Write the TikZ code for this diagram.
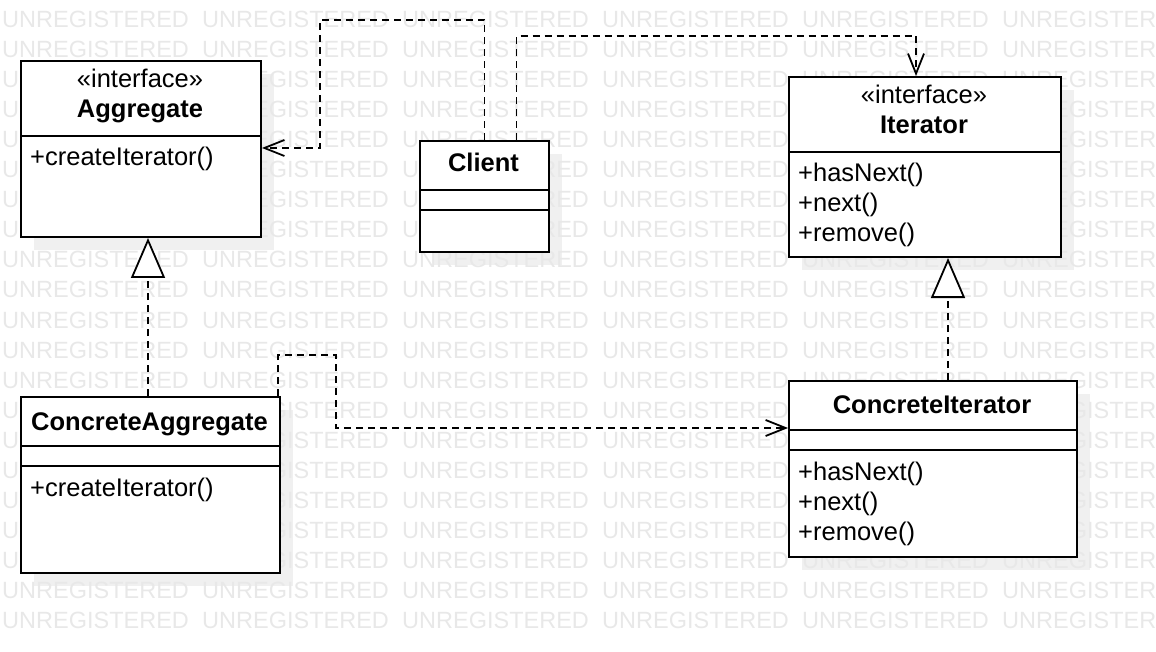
\documentclass[tikz,border=0pt]{standalone}
\usepackage{fontspec}
\setmainfont{Liberation Sans}
\usetikzlibrary{arrows.meta}

\begin{document}
\begin{tikzpicture}[x=1pt,y=-1pt]
      \tikzstyle{box} = [rectangle, draw, line width=2pt, fill=white, anchor=north west, inner sep=0pt]
      \tikzstyle{shade} = [fill=black!6]
      \tikzstyle{wmark} = [anchor=base west, inner sep=0pt, text=black!9, font=\fontsize{23.5}{28}\selectfont]
      \tikzstyle{classname} = [anchor=base, inner sep=0pt, font=\fontsize{25.5}{30}\selectfont\bfseries]
      \tikzstyle{stereo} = [anchor=base, inner sep=0pt, font=\fontsize{25.5}{30}\selectfont]
      \tikzstyle{opline} = [anchor=base west, inner sep=0pt, font=\fontsize{25.5}{30}\selectfont]
      \tikzstyle{divider} = [line width=2pt]
      \tikzstyle{dep} = [line width=1.8pt, dash pattern=on 7pt off 5pt, -{Straight Barb[length=20pt,width=16pt,line width=1.8pt]}]
      \tikzstyle{real} = [line width=1.8pt, dash pattern=on 7pt off 5pt, -{Triangle[length=40pt,width=34pt,fill=white,line width=1.8pt]}]
      \useasboundingbox (0,0) rectangle (1156,652);
      % shadows
      \fill[shade] (34,74) rectangle (274,250);
      \fill[shade] (433,154) rectangle (562,265);
      \fill[shade] (802,90) rectangle (1074,270);
      \fill[shade] (34,410) rectangle (293,586);
      \fill[shade] (802,394) rectangle (1090,570);
      % watermark
      \foreach \row in {-1,...,20}
        \foreach \col in {0,...,5}
          \node (w-\row-\col) [wmark] at (2+200*\col, 28+30*\row) {UNREGISTERED};
      % classes
      \node (agg) [box, minimum width=240pt, minimum height=176pt] at (20,60) {};
      \node (client) [box, minimum width=129pt, minimum height=111pt] at (419,140) {};
      \node (iter) [box, minimum width=272pt, minimum height=180pt] at (788,76) {};
      \node (cagg) [box, minimum width=259pt, minimum height=176pt] at (20,396) {};
      \node (citer) [box, minimum width=288pt, minimum height=176pt] at (788,380) {};
      % Aggregate
      \node (agg-st) [stereo] at (140,88) {«interface»};
      \node (agg-name) [classname] at (140,118) {Aggregate};
      \draw [divider] (agg.west |- 0,136) -- (agg.east |- 0,136);
      \node (agg-op) [opline] at (30,166) {+createIterator()};
      % Client
      \node (client-name) [classname] at (483.5,172) {Client};
      \draw [divider] (client.west |- 0,190) -- (client.east |- 0,190);
      \draw [divider] (client.west |- 0,210) -- (client.east |- 0,210);
      % Iterator
      \node (iter-st) [stereo] at (924,104) {«interface»};
      \node (iter-name) [classname] at (924,134) {Iterator};
      \draw [divider] (iter.west |- 0,152) -- (iter.east |- 0,152);
      \node (iter-op1) [opline] at (798,182) {+hasNext()};
      \node (iter-op2) [opline] at (798,212) {+next()};
      \node (iter-op3) [opline] at (798,242) {+remove()};
      % ConcreteAggregate
      \node (cagg-name) [classname] at (149.5,430) {ConcreteAggregate};
      \draw [divider] (cagg.west |- 0,446) -- (cagg.east |- 0,446);
      \draw [divider] (cagg.west |- 0,466) -- (cagg.east |- 0,466);
      \node (cagg-op) [opline] at (30,496) {+createIterator()};
      % ConcreteIterator
      \node (citer-name) [classname] at (932,413) {ConcreteIterator};
      \draw [divider] (citer.west |- 0,430) -- (citer.east |- 0,430);
      \draw [divider] (citer.west |- 0,450) -- (citer.east |- 0,450);
      \node (citer-op1) [opline] at (798,480) {+hasNext()};
      \node (citer-op2) [opline] at (798,510) {+next()};
      \node (citer-op3) [opline] at (798,540) {+remove()};
      % relations
      \draw [dep] (client.north) |- (320,20) |- (agg.east |- 0,148);
      \draw [dep] ([xshift=32pt]client.north) |- (916,36) -- (iter.north -| 916,0);
      \draw [real] (cagg.north -| 148,0) -- (agg.south -| 148,0);
      \draw [real] (citer.north -| 948,0) -- (iter.south -| 948,0);
      \draw [dep] ([xshift=-3pt]cagg.north east) |- (336,355) |- (citer.west |- 0,428);
    \end{tikzpicture}
\end{document}
